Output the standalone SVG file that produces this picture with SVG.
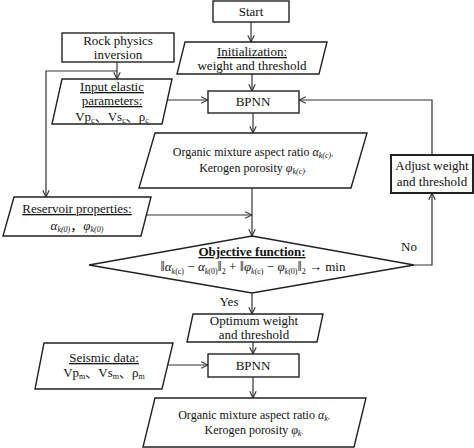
<svg xmlns="http://www.w3.org/2000/svg" width="474" height="448" viewBox="0 0 474 448">
<style>
.b{fill:#fff;stroke:#222;stroke-width:1.4}
.t{font-family:"Liberation Serif","Times New Roman",Times,serif;font-size:13px;fill:#111;text-anchor:middle}
.s{font-size:12px}
.u{text-decoration:underline}
.i{font-style:italic}
.k{font-family:"Noto Sans CJK SC",sans-serif}
.c{fill:none;stroke:#333;stroke-width:1.2}
.a{marker-end:url(#ah)}
</style>
<defs>
<marker id="ah" viewBox="0 0 10 10" refX="9.5" refY="5" markerWidth="8" markerHeight="8" markerUnits="userSpaceOnUse" orient="auto">
<path d="M1,1 L9.5,5 L1,9" fill="none" stroke="#333" stroke-width="1.4"/>
</marker>
</defs>
<rect width="474" height="448" fill="#fff"/>
<g id="connectors">
<path class="c a" d="M251,22 V42"/>
<path class="c a" d="M252,74 V91"/>
<path class="c a" d="M167,100 H208"/>
<path class="c a" d="M117,62 V79"/>
<path class="c a" d="M117,71 H46 V197"/>
<path class="c a" d="M253,113 V133"/>
<path class="c a" d="M252,188 V236"/>
<path class="c a" d="M146,215 H252"/>
<path class="c a" d="M414,265 H432 V193"/>
<path class="c a" d="M432,155 V100 H299"/>
<path class="c a" d="M252,293 V314"/>
<path class="c a" d="M253,342 V354"/>
<path class="c a" d="M168,365 H208"/>
<path class="c a" d="M253,377 V398"/>
<text class="t" x="409" y="251">No</text>
<text class="t" x="229" y="306">Yes</text>
</g>
<g id="start">
<rect class="b" x="213" y="1" width="76" height="21"/>
<text class="t" x="251" y="16">Start</text>
</g>
<g id="init">
<polygon class="b" points="185,42 327,42 319,74 177,74"/>
<text class="t u" x="252" y="56">Initialization:</text>
<text class="t" x="252" y="70">weight and threshold</text>
</g>
<g id="bpnn1">
<rect class="b" x="208" y="91" width="91" height="22"/>
<text class="t" x="253" y="106">BPNN</text>
</g>
<g id="rock">
<rect class="b" x="62" y="33" width="112" height="29"/>
<text class="t" x="118" y="45">Rock physics</text>
<text class="t" x="118" y="59">inversion</text>
</g>
<g id="input">
<polygon class="b" points="62,79 172,79 162,124 52,124"/>
<text class="t u" x="112" y="91">Input elastic</text>
<text class="t u" x="112" y="105">parameters:</text>
<text class="t" x="112" y="121">Vp<tspan font-size="8" dy="2">c</tspan><tspan class="k" dy="-2">、</tspan>Vs<tspan font-size="8" dy="2">c</tspan><tspan class="k" dy="-2">、</tspan>ρ<tspan font-size="8" dy="2">c</tspan></text>
</g>
<g id="organic1">
<polygon class="b" points="155,133 367,133 351,188 139,188"/>
<text class="t s" x="253" y="156">Organic mixture aspect ratio <tspan class="i">α</tspan><tspan class="i" font-size="8" dy="2">k(c)</tspan><tspan dy="-2" font-size="8">,</tspan></text>
<text class="t s" x="253" y="172">Kerogen porosity <tspan class="i">φ</tspan><tspan class="i" font-size="8" dy="2">k(c)</tspan><tspan dy="-2" font-size="8">.</tspan></text>
</g>
<g id="adjust">
<rect x="391" y="155" width="82" height="38" fill="#fff" stroke="#222" stroke-width="2"/>
<text class="t" x="432" y="170">Adjust weight</text>
<text class="t" x="432" y="186">and threshold</text>
</g>
<g id="reservoir">
<polygon class="b" points="14,197 151,197 141,236 3,236"/>
<text class="t u" x="77" y="213">Reservoir properties:</text>
<text class="t" x="77" y="230"><tspan class="i">α</tspan><tspan class="i" font-size="8" dy="2">k(0)</tspan><tspan class="k" dy="-2">，</tspan><tspan class="i">φ</tspan><tspan class="i" font-size="8" dy="2">k(0)</tspan></text>
</g>
<g id="objective">
<polygon class="b" points="252,236 414,265 252,293 89,265"/>
<text class="t u" x="252" y="256" font-weight="bold">Objective function:</text>
<text class="t" x="253" y="271"><tspan font-size="15">‖</tspan><tspan class="i">α</tspan><tspan font-size="8" dy="3"><tspan class="i">k</tspan>(c)</tspan><tspan dy="-3"> − </tspan><tspan class="i">α</tspan><tspan font-size="8" dy="3"><tspan class="i">k</tspan>(0)</tspan><tspan dy="-3" font-size="15">‖</tspan><tspan font-size="8" dy="3">2</tspan><tspan dy="-3"> + </tspan><tspan font-size="15">‖</tspan><tspan class="i">φ</tspan><tspan font-size="8" dy="3"><tspan class="i">k</tspan>(c)</tspan><tspan dy="-3"> − </tspan><tspan class="i">φ</tspan><tspan font-size="8" dy="3"><tspan class="i">k</tspan>(0)</tspan><tspan dy="-3" font-size="15">‖</tspan><tspan font-size="8" dy="3">2</tspan><tspan dy="-3"> → min</tspan></text>
</g>
<g id="optimum">
<polygon class="b" points="193,314 323,314 317,342 187,342"/>
<text class="t" x="254" y="325">Optimum weight</text>
<text class="t" x="254" y="339">and threshold</text>
</g>
<g id="seismic">
<polygon class="b" points="44,343 173,343 162,389 35,389"/>
<text class="t u" x="104" y="362">Seismic data:</text>
<text class="t" x="104" y="377">Vp<tspan font-size="8" dy="2">m</tspan><tspan class="k" dy="-2">、</tspan>Vs<tspan font-size="8" dy="2">m</tspan><tspan class="k" dy="-2">、</tspan>ρ<tspan font-size="8" dy="2">m</tspan></text>
</g>
<g id="bpnn2">
<rect class="b" x="208" y="354" width="91" height="23"/>
<text class="t" x="253" y="370">BPNN</text>
</g>
<g id="organic2">
<polygon class="b" points="155,398 366,398 354,447 143,447"/>
<text class="t s" x="254" y="419">Organic mixture aspect ratio <tspan class="i">α</tspan><tspan class="i" font-size="8" dy="2">k</tspan><tspan dy="-2" font-size="8">,</tspan></text>
<text class="t s" x="254" y="434">Kerogen porosity <tspan class="i">φ</tspan><tspan class="i" font-size="8" dy="2">k</tspan><tspan dy="-2" font-size="8">.</tspan></text>
</g>
</svg>
